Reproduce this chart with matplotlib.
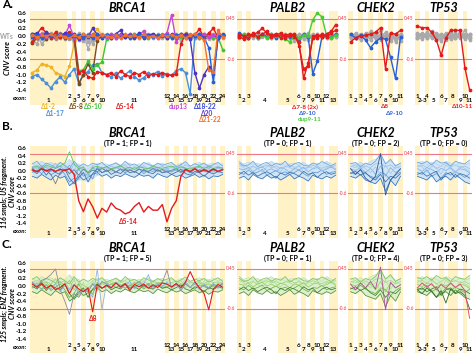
import numpy as np
import matplotlib
matplotlib.use('Agg')
import matplotlib.pyplot as plt
from matplotlib.transforms import blended_transform_factory

plt.rcParams['font.family'] = ['Lato', 'DejaVu Sans']
plt.rcParams['axes.unicode_minus'] = False

# ---- gene structure: exon names and number of fragments per exon ----
brca1_exons = ['1', '2', '3', '5', '6', '7', '8', '9', '10', '11', '12', '13', '14',
               '15', '16', '17', '18', '19', '20', '21', '22', '23', '24']
brca1_sizes = [8, 1, 1, 1, 1, 1, 1, 1, 1, 13, 1, 1, 1, 1, 1, 1, 1, 1, 1, 1, 1, 1, 1]
palb2_exons = ['1', '2', '3', '4', '5', '6', '7', '8', '9', '10', '11', '12', '13']
palb2_sizes = [1, 1, 1, 6, 4, 1, 1, 1, 1, 1, 1, 1, 2]
chek2_exons = ['1', '2', '3', '4', '5', '6', '7', '8', '9', '10', '11']
chek2_sizes = [1, 1, 1, 1, 1, 1, 1, 1, 1, 1, 1]
tp53_exons = ['1', '2-3', '4', '5', '6', '7', '8', '9', '10', '11']
tp53_sizes = [1, 1, 1, 2, 1, 1, 2, 1, 1, 1]

ytick_vals = [0.6, 0.4, 0.2, 0.0, -0.2, -0.4, -0.6, -0.8, -1.0, -1.2, -1.4]
ytick_labels = ['0.6', '0.4', '0.2', '0.0', '-0.2', '-0.4', '-0.6', '-0.8', '-1.0', '-1.2', '-1.4']

# ---- panel A: wild-type samples (CNV score x100) ----
wt_a_brca1 = [
    [3, -5, 8, 2, -4, 6, -2, 5, -8, 4, -10, 3, -15, 2, 5, -3, 4, -2, 6, -1, 3, -4, 2, 5, -3, 1, 4, -2, 3, -5, 2, 6, -4, 3, -2, 5, -6, 2, 4, -3, 6, -2],
    [-4, 2, -6, 5, 0, -3, 7, -5, 3, -12, 6, -8, 4, -20, -4, 6, -3, 2, -5, 4, 1, -2, 5, -3, 0, 4, -6, 3, -1, 2, -5, 4, -3, 7, -8, -4, 5, -2, 1, 6, -3, 2],
    [6, 4, -20, -8, 3, 5, -4, 1, 6, -6, 2, -14, -6, 3, -2, 4, -1, 5, -4, 2, -3, 6, -2, 1, 5, -4, 2, -3, 6, -1, 4, -2, -12, 5, -3, 2, -6, 4, -2, 1, 5, -4],
    [-8, -20, 5, -5, 6, -2, 3, -7, -2, 5, -4, 6, -33, -5, 4, -6, 3, -4, 1, 5, -2, 3, -5, 4, -1, 2, -3, 5, -2, 4, -6, 3, 1, -4, 6, -2, 3, -5, 2, -4, 1, 4],
    [1, -6, 3, 7, -2, -8, 5, 2, -4, -15, 8, -3, 5, -6, -2, 3, 5, -4, 2, -6, 4, -1, 3, -5, 6, -2, 1, 4, -3, 5, -2, -6, 4, -1, 3, -4, 6, -3, -8, 2, -5, 3],
    [5, 2, -7, 0, 8, -5, -3, 6, 9, -3, -6, 4, -2, -10, 6, -1, -5, 3, -2, 1, 5, -3, 2, -4, 1, 6, -2, 3, -5, -1, 3, 2, -5, 4, -6, 1, -3, 5, 2, -6, 4, -1],
]
wt_a_palb2 = [
    [2, -3, 5, -2, 4, -1, 3, -4, 2, 5, -3, 1, 4, -6, 2, -3, 5, -2, 4, -1, 3, -2],
    [-4, 3, -1, 6, -2, 3, -5, 2, -1, 4, 2, -5, -2, 5, -8, 3, -2, 6, -3, 2, -5, 4],
    [5, -2, 3, -4, 1, 5, -3, 4, -6, 2, -1, 3, -7, 2, 4, -5, 1, -3, 5, -4, 2, -1],
    [-2, 5, -4, 2, -6, 1, 4, -2, 3, -3, 5, -2, -12, -4, 6, -10, 3, -5, 2, 4, -3, 6],
    [1, -6, 2, 4, -3, 6, -1, -4, 5, -2, 3, -4, 6, -3, -2, 8, -6, 4, -1, -5, 6, -2],
    [4, 2, -5, 1, 3, -2, 5, -3, -1, 6, -4, 2, 1, -6, 3, -2, -4, 6, -3, 1, -2, 5],
]
wt_a_chek2 = [
    [2, -4, 6, -2, 12, -5, 3, -8, 5, -6, 4],
    [-5, 3, -10, 4, -2, 8, -6, 2, -12, 6, -3],
    [6, -2, 4, -6, 3, -3, 15, -4, 2, -8, 5],
    [-3, 8, -2, 5, -9, 4, -5, 10, -6, 3, -12],
    [0, -6, 2, -3, 6, -8, 5, -2, 8, -15, 2],
    [4, 2, -5, 8, -4, 2, -10, 3, -3, 5, -6],
]
wt_a_tp53 = [
    [5, -3, 10, -2, 6, -8, 4, -5, 8, -3, 6, -2],
    [-4, 8, -2, 4, -6, 3, -10, 6, -3, 12, -5, 3],
    [8, 2, -6, 12, -3, -12, 5, -2, 4, -6, 16, -4],
    [-2, -8, 4, -3, 8, 2, -6, 10, -5, 3, -8, 6],
    [3, 6, -4, 2, -10, 5, 3, -8, 6, -2, 4, -10],
    [-6, 4, 6, -5, 3, -4, 8, -3, -6, 8, -3, 5],
]

# ---- panel A: samples with known CNVs (x100) ----
a_d1_2 = [-95, -88, -72, -75, -80, -95, -100, -105, -78, -20, -2, 5, -3, 4, 18, 2, 0, -4, 3, -2, 5, -3, 1, 4, -5, 2, -1, 3, -2, 4, -3, 2, -5, 3, -1, 5, -2, 3, -4, 2, -3, 1]
a_d1_17 = [-105, -100, -112, -122, -135, -118, -106, -120, -100, -85, -122, -100, -92, -76, -72, -95, -100, -106, -95, -110, -100, -90, -105, -115, -108, -96, -100, -92, -104, -98, -102, -90, -85, -95, -150, -2, 5, -3, 2, -4, 3, -1]
a_d5_8 = [-18, -5, 3, -8, 4, -2, 6, -4, 2, -6, -125, -100, -72, -95, -12, 2, -3, 4, -2, 5, -1, 3, -4, 2, -3, 1, 4, -2, 3, -2, 3, -4, 1, 5, -3, 2, -1, 4, -2, 3, -5, 2]
a_d5_10 = [5, -3, 2, 4, -5, 3, -2, 6, -4, 3, -90, -88, -65, -85, -75, -68, -8, 3, -2, 4, -3, 1, 5, -2, 3, -4, 2, -1, 3, -5, 2, 4, -3, 1, -2, 3, -4, 2, 5, -6, -3, -35]
a_d5_14 = [-15, 5, 22, 8, -5, 10, -3, 6, 10, 2, -95, -90, -105, -110, -92, -96, -100, -95, -105, -90, -100, -105, -95, -100, -92, -104, -98, -100, -95, -100, -102, -98, -20, 5, -2, 3, 18, -4, 8, 20, -3, 5]
a_dup13 = [3, -5, 6, -2, 4, -3, 5, 2, 28, -4, 3, -6, 2, 5, -3, 4, -2, 6, -4, 3, -1, 5, -3, 2, 14, -2, 4, -5, 1, 8, 55, -15, 3, -4, 2, 5, -3, 6, -2, 4, -1, 3]
a_d18_22 = [5, 8, -3, 10, 4, -6, 2, 7, -3, 5, -8, 3, -2, 20, 4, -5, 2, -4, 6, 15, -3, 4, -2, 8, -5, 3, 6, -1, 2, -4, 5, -3, 6, 2, -8, -95, -135, -100, -80, -98, -5, 3]
a_d20 = [-2, 4, -5, 3, 1, -3, 6, -2, 4, -1, 3, -4, 2, -6, 5, -2, 3, -1, 4, -3, 2, -5, 1, 3, -2, 4, -3, 2, -1, 3, -4, 2, 5, -2, 3, -1, 6, -4, -30, -120, -2, 4]
a_d21_22 = [4, -3, 2, -1, 5, -4, 3, -2, -5, 2, -3, 6, -1, 3, -4, 2, 1, -2, 4, -5, 3, -1, 2, -3, 5, -2, 1, -4, 3, -1, 4, -2, 3, -5, 2, 6, -3, -10, -88, -92, 15, -2]
a_palb2_d7_8a = [-2, -8, 5, 3, 10, 20, 8, 2, 6, -4, 3, 5, -2, -15, -110, -70, -5, 4, -3, 6, 12, 30]
a_palb2_d7_8b = [4, 0, -6, 8, -2, 5, 12, -3, 2, 8, -5, 2, 6, -25, -85, -78, 0, -4, 5, -2, 8, 15]
a_palb2_d9_10 = [8, 2, -5, 3, -4, 6, -2, 5, -6, 3, 2, -3, 4, -8, 5, -2, -98, -65, -2, 4, -3, 5]
a_palb2_dup9_11 = [-3, 5, -2, 4, -6, 2, -4, 6, -1, -3, -8, -15, 2, -5, 3, 0, 42, 60, 50, 2, -4, 3]
a_chek2_d8 = [-15, -5, 0, 2, 5, 10, 22, -85, 8, 5, 15]
a_chek2_d9_10 = [5, -5, 2, -10, -30, -15, -5, -8, -55, -110, -2]
a_tp53_d10_11 = [25, 22, 22, 10, -10, -50, -5, 15, 15, 15, -82, -140]

# ---- panels B and C: bundles of validation samples (x100) ----
wt_bc_brca1 = [
    [10, 15, 8, 12, 5, 18, 9, 14, -10, 20, -25, -5, -15, 8, -12, 10, 4, 12, 6, 9, 15, 3, 10, 7, 12, 5, 14, 8, 11, 4, 9, 13, 6, 15, 8, 10, 12, 5, 14, 9, 11, 7],
    [-5, 2, -8, 4, -12, -3, 6, -10, -30, -20, 5, -15, -8, -22, 10, -5, -2, 6, -4, 3, -6, 2, -3, 5, -8, 1, -2, 4, -5, 0, -3, 2, -6, 5, -4, -8, 3, -2, -5, 1, -3, 4],
    [20, 12, 25, 18, 22, 15, 20, 16, 30, 10, 18, -10, 5, 12, 20, 15, 18, 12, 22, 14, 16, 20, 12, 18, 15, 22, 13, 17, 20, 12, 18, 14, 20, 16, 12, 18, 22, 15, 17, 20, 14, 18],
    [-15, -20, -10, -18, -25, -12, -20, -15, -40, -30, -12, -25, -18, -10, -5, -15, -10, -20, -12, -16, -8, -14, -18, -10, -15, -12, -20, -8, -14, -18, -10, -16, -12, -20, -15, -10, -18, -12, -22, -14, -16, -10],
    [5, 8, 2, 10, -3, 6, 12, 0, 15, -10, 8, 2, -5, 6, 3, 8, -2, 5, 10, 2, 6, -1, 8, 4, -2, 7, 3, 9, 1, 5, -4, 8, 2, 6, -3, 5, 9, 1, 6, -2, 7, 3],
    [12, 5, 15, -2, 8, 20, -5, 10, -8, 5, -15, 10, -20, 15, -10, 5, 12, -3, 8, 15, 2, 10, -4, 12, 6, -2, 10, 5, -6, 12, 8, 2, 15, -5, 10, 6, -3, 12, 4, -8, 10, 5],
    [0, -8, 5, -12, 3, -5, -10, 4, -20, -35, -18, -5, -30, -8, 5, -6, 2, -10, -3, -8, 4, -6, -2, -9, 3, -5, -8, 2, -6, -3, -10, -4, 3, -8, -12, -2, -6, -15, -4, -9, -2, -6],
    [18, 25, 10, 20, 15, 8, 22, 14, 5, 25, 10, 18, 12, 20, 15, 22, 10, 16, 20, 12, 25, 14, 18, 10, 22, 16, 12, 20, 14, 18, 22, 10, 16, 24, 12, 18, 14, 20, 10, 16, 22, 12],
]
wt_bc_palb2 = [
    [25, 15, 8, 12, 5, 10, 14, 8, 12, 6, 10, 15, 8, 12, 5, 9, 14, 10, 6, 12, 8, 15],
    [-5, -10, 2, -8, -4, 3, -12, -6, 0, -8, -3, -10, -5, 2, -8, -15, -4, -6, 2, -10, -5, -2],
    [10, 18, 22, 15, 20, 12, 18, 25, 15, 20, 12, 18, 20, 15, 22, 14, 18, 20, 12, 25, 18, 14],
    [-20, -15, -25, -10, -18, -22, -12, -20, -15, -25, -18, -10, -22, -15, -20, -28, -12, -18, -22, -15, -20, -12],
    [5, 2, 8, -3, 6, 10, 0, 5, -2, 8, 4, -5, 6, 2, 9, -3, 5, 8, -1, 4, 10, 2],
    [15, 8, -2, 12, 5, -4, 10, 15, 6, -3, 12, 8, 2, 14, -5, 10, 6, 15, -2, 8, 12, 5],
    [-10, -2, -12, -5, -15, -8, -3, -10, -20, -6, -12, -4, -8, -15, -2, -10, -6, -18, -8, -3, -10, -6],
    [20, 12, 15, 25, 10, 18, 22, 12, 20, 15, 25, 10, 18, 22, 14, 12, 20, 16, 24, 18, 12, 20],
]
wt_bc_chek2 = [
    [10, 15, 5, 12, 8, 18, 20, 10, 15, 6, 12],
    [-5, -10, 2, -8, -15, -20, -5, -10, -25, -12, -4],
    [20, 15, 22, 12, 25, 30, 35, 20, 25, 15, 18],
    [-15, -20, -10, -25, -30, -35, -20, -55, -25, -40, -15],
    [5, 0, 8, -5, 6, -10, 12, -15, 8, -5, 3],
    [12, 8, 15, 5, -5, 10, -12, 15, -8, 10, 6],
    [-8, -2, -12, -5, -18, -25, -10, -30, -15, -20, -8],
    [18, 22, 10, 20, 15, 25, 45, 18, 30, 12, 20],
]
wt_bc_tp53 = [
    [10, 15, 8, 18, 5, 12, 20, 10, 15, 8, 12, 5],
    [-5, -10, 2, -15, -8, -20, -5, -12, -3, -10, -18, -8],
    [20, 25, 15, 22, 18, 10, 25, 20, 12, 22, 15, 20],
    [-15, -20, -25, -12, -30, -20, -15, -25, -10, -20, -30, -35],
    [5, -2, 8, 3, -5, 6, 0, 8, -3, 5, 2, -6],
    [15, 10, -5, 12, 8, -10, 15, 5, -8, 12, 6, -2],
    [-10, -5, -15, -8, -2, -25, -10, -5, -18, -8, -12, -20],
    [22, 18, 25, 15, 28, 20, 22, 12, 25, 20, 18, 28],
]

b_brca1_d5_14 = [2, -3, 5, -1, 4, -2, 3, 0, 5, -10, -80, -109, -75, -96, -126, -100, -110, -86, -100, -105, -115, -110, -95, -85, -110, -95, -105, -105, -90, -136, -100, -80, -15, 3, -2, 5, -4, 2, -3, 4, -2, 3]
b_brca1_green = [8, 12, 5, 15, 10, 6, 12, 20, 50, 18, 5, 10, -5, 8, 12, 6, 10, 4, 8, 12, 6, 9, 3, 10, 7, 5, 11, 8, 6, 9, 12, 5, 10, 7, 4, 8, 12, 6, 10, 5, 9, 7]
b_brca1_gray = [5, -2, 8, 0, -10, -35, -5, 3, -8, 2, -12, 4, -6, 1, -3, 6, -2, 3, -4, 5, -1, 2, -5, 4, 0, -3, 6, -2, 3, -4, 1, 5, -3, 2, -6, 4, -1, 3, -2, 5, -4, 1]
b_chek2_fp = [5, -10, 3, -20, -30, -15, 45, -65, -25, -10, 5]

c_brca1_d8 = [5, -3, 8, -6, 2, -10, -4, 6, -20, 3, -8, -15, -5, -68, 4, -6, 2, -5, 8, -3, 6, -12, 4, -2, 5, -6, 3, -4, 8, 5, -2, 6, -4, 10, 38, 12, -5, -20, -63, -8, 4, -3]
c_brca1_gray = [10, -5, 15, 20, 30, 45, -10, -40, -75, -20, -30, -10, -15, 5, -8, 12, 6, -4, 10, -2, 8, -6, 4, 12, -3, 6, -8, 2, 10, 42, -5, 8, -12, 6, -4, 10, -6, 3, -8, 5, -2, 8]
c_brca1_blue = [-5, 8, -12, 4, -8, 6, -15, 2, -10, 5, -20, -8, -12, -30, 45, -62, 8, -4, 10, -6, 3, 12, -8, 5, 6, 30, -4, 8, -2, 10, -6, 4, -8, 12, -3, 6, -10, 5, -4, 8, -6, 3]
c_chek2_fp = [5, -10, 8, -5, 12, -8, 50, -63, 10, -5, 3]
c_tp53_pink = [-5, 8, -3, 6, -10, 4, -6, 8, -4, 5, -12, -85]
c_tp53_green = [-10, -20, -5, -15, -30, -12, -45, -8, -20, -15, -25, -60]

subtitles_b = ['(TP = 1; FP = 1)', '(TP = 0; FP = 1)', '(TP = 0; FP = 2)', '(TP = 0; FP = 0)']
subtitles_c = ['(TP = 1; FP = 5)', '(TP = 0; FP = 1)', '(TP = 0; FP = 4)', '(TP = 0; FP = 3)']

# ---- layout (pixel boxes) ----
W, H = 474, 355
genes = ['BRCA1', 'PALB2', 'CHEK2', 'TP53']
exons = {'BRCA1': (brca1_exons, brca1_sizes), 'PALB2': (palb2_exons, palb2_sizes),
         'CHEK2': (chek2_exons, chek2_sizes), 'TP53': (tp53_exons, tp53_sizes)}
panel_x = {'BRCA1': (30, 225), 'PALB2': (237, 338), 'CHEK2': (348, 403), 'TP53': (415, 472)}
row_y = {'A': (11.1, 104.6), 'B': (146.1, 237.7), 'C': (261.4, 353.4)}

band = '#fff2c6'
thr_col = '#f07882'
YLO, YHI = -1.78, 0.65

fig = plt.figure(figsize=(4.74, 3.55), dpi=100)


def make_axes(gene, row):
    x0, x1 = panel_x[gene]
    y0, y1 = row_y[row]
    ax = fig.add_axes([x0 / W, 1 - y1 / H, (x1 - x0) / W, (y1 - y0) / H])
    names, sizes = exons[gene]
    n = sum(sizes)
    ax.set_xlim(-0.5, n - 0.5)
    ax.set_ylim(YLO, YHI)
    for s in ax.spines.values():
        s.set_visible(False)
    ax.set_xticks([])
    tr = blended_transform_factory(ax.transAxes, ax.transData)
    if gene == 'BRCA1':
        ax.set_yticks(ytick_vals)
        ax.set_yticklabels(ytick_labels, fontsize=4.6, fontweight='bold')
        ax.tick_params(axis='y', length=0, pad=2.5)
        ax.text(-0.015, -1.615, 'exon:', transform=tr, ha='right', va='center',
                fontsize=4.4, style='italic', fontweight='bold')
    else:
        ax.set_yticks([])
        ax.text(-0.02, 0.45, '0.45', transform=tr, ha='right', va='center', fontsize=3.4, color='#e8343c')
        ax.text(-0.02, -0.6, '-0.6', transform=tr, ha='right', va='center', fontsize=3.4, color='#e8343c')
    # exon shading and labels
    start = 0
    up = True
    for k, (name, size) in enumerate(zip(names, sizes)):
        if k % 2 == 0:
            ax.axvspan(start - 0.5, start + size - 0.5, color=band, lw=0, zorder=0)
        mid = start + (size - 1) / 2
        if size >= 3:
            yv = -1.665
            up = True
        else:
            yv = -1.56 if up else -1.665
            up = not up
        ax.text(mid, yv, name, ha='center', va='center', fontsize=4.5, fontweight='bold')
        start += size
    ax.axhline(0.45, color=thr_col, lw=0.8, zorder=1)
    ax.axhline(-0.6, color=thr_col, lw=0.8, zorder=1)
    return ax


def line(ax, vals, color, lw=1.0, marker=True, z=3, alpha=1.0):
    v = np.array(vals) / 100.0
    x = np.arange(len(v))
    if marker:
        ax.plot(x, v, color=color, lw=lw, marker='o', ms=1.7, zorder=z, alpha=alpha)
    else:
        ax.plot(x, v, color=color, lw=lw, zorder=z, alpha=alpha)


def label(ax, x, y, s, color, size=4.8):
    ax.text(x, y, s, color=color, fontsize=size, fontweight='bold', ha='center',
            va='center', clip_on=False)


axA = {g: make_axes(g, 'A') for g in genes}
axB = {g: make_axes(g, 'B') for g in genes}
axC = {g: make_axes(g, 'C') for g in genes}

# ---- panel A ----
wt_a = {'BRCA1': wt_a_brca1, 'PALB2': wt_a_palb2, 'CHEK2': wt_a_chek2, 'TP53': wt_a_tp53}
for g in genes:
    for prof in wt_a[g]:
        line(axA[g], prof, '#a9a9a9', lw=1.0, z=2)

a_brca1 = [(a_d1_2, '#f0b323'), (a_d1_17, '#4a8fdc'), (a_d5_8, '#7a4a1e'),
           (a_d5_10, '#3cc43c'), (a_d5_14, '#e41a1c'), (a_dup13, '#c447d6'),
           (a_d18_22, '#4b32c8'), (a_d20, '#1f5fe0'), (a_d21_22, '#f07030')]
for vals, col in a_brca1:
    line(axA['BRCA1'], vals, col)
line(axA['PALB2'], a_palb2_d9_10, '#2a5fd8')
line(axA['PALB2'], a_palb2_dup9_11, '#44cc33')
line(axA['PALB2'], a_palb2_d7_8b, '#e41a1c')
line(axA['PALB2'], a_palb2_d7_8a, '#e41a1c')
line(axA['CHEK2'], a_chek2_d9_10, '#2a5fd8')
line(axA['CHEK2'], a_chek2_d8, '#e41a1c')
line(axA['TP53'], a_tp53_d10_11, '#e41a1c')

ax = axA['BRCA1']
label(ax, 3.4, -1.84, '\u03941-2', '#f0b323')
label(ax, 4.9, -2.02, '\u03941-17', '#4a8fdc')
label(ax, 9.4, -1.84, '\u03945-8', '#7a4a1e')
label(ax, 13.1, -1.84, '\u03945-10', '#3cc43c')
label(ax, 20.0, -1.84, '\u03945-14', '#e41a1c')
label(ax, 31.4, -1.84, 'dup13', '#c447d6')
label(ax, 37.2, -1.84, '\u039418-22', '#3344dd')
label(ax, 37.6, -2.01, '\u039420', '#5b32c8')
label(ax, 38.3, -2.17, '\u039421-22', '#f07030')
tr = blended_transform_factory(ax.transAxes, ax.transData)
ax.text(-0.118, 0.0, 'WTs', transform=tr, ha='center', va='center', fontsize=4.8,
        color='#a0a0a0', fontweight='bold')
label(axA['PALB2'], 14.3, -1.84, '\u03947-8 (2x)', '#e41a1c', size=4.5)
label(axA['PALB2'], 15.0, -2.01, '\u03949-10', '#2a5fd8', size=4.5)
label(axA['PALB2'], 15.4, -2.18, 'dup9-11', '#44cc33', size=4.5)
label(axA['CHEK2'], 6.9, -1.84, '\u03948', '#e41a1c', size=4.5)
label(axA['CHEK2'], 8.9, -2.01, '\u03949-10', '#2a5fd8', size=4.5)
label(axA['TP53'], 9.5, -1.84, '\u039410-11', '#e41a1c', size=4.5)

# ---- panels B and C ----
wt_bc = {'BRCA1': wt_bc_brca1, 'PALB2': wt_bc_palb2, 'CHEK2': wt_bc_chek2, 'TP53': wt_bc_tp53}
blues = ['#9dc3e6', '#5b9bd5', '#bdd7ee', '#2e75b6', '#7fb2e0', '#a6c8ea', '#3a6ea8', '#6aa6dc']
greens = ['#a9d18e', '#70ad47', '#c5e0b4', '#4f8f2f', '#92d050', '#b4de9a', '#3d7a22', '#7cc35a']
for axes, cols, fill in ((axB, blues, '#d3e5f5'), (axC, greens, '#dcf0cf')):
    for g in genes:
        prof = np.array(wt_bc[g]) / 100.0
        x = np.arange(prof.shape[1])
        axes[g].fill_between(x, prof.min(axis=0), prof.max(axis=0), color=fill, lw=0, zorder=1.8)
        for k, p in enumerate(wt_bc[g]):
            line(axes[g], p, cols[k % len(cols)], lw=0.55, marker=False, z=2)

line(axB['BRCA1'], b_brca1_gray, '#6e7f91', lw=0.6, marker=False, z=2.5)
line(axB['BRCA1'], b_brca1_green, '#5cc45c', lw=0.6, marker=False, z=2.5)
line(axB['BRCA1'], b_brca1_d5_14, '#e41a1c', lw=1.0, marker=False, z=3)
line(axB['CHEK2'], b_chek2_fp, '#2f5597', lw=0.6, marker=False, z=2.5)
label(axB['BRCA1'], 20.6, -1.34, '\u03945-14', '#e41a1c')

line(axC['BRCA1'], c_brca1_gray, '#8a8a9e', lw=0.6, marker=False, z=2.5)
line(axC['BRCA1'], c_brca1_blue, '#8fb3e0', lw=0.6, marker=False, z=2.5)
line(axC['BRCA1'], c_brca1_d8, '#e41a1c', lw=0.8, marker=False, z=3)
line(axC['CHEK2'], c_chek2_fp, '#b04d9e', lw=0.6, marker=False, z=2.5)
line(axC['TP53'], c_tp53_green, '#2e6b1f', lw=0.6, marker=False, z=2.5)
line(axC['TP53'], c_tp53_pink, '#e0507a', lw=0.7, marker=False, z=3)
label(axC['BRCA1'], 13.1, -0.845, '\u03948', '#e41a1c')

# ---- titles and labels ----
title_y = {'A': 8, 'B': 133, 'C': 248}
for row in ('A', 'B', 'C'):
    for k, g in enumerate(genes):
        x0, x1 = panel_x[g]
        fig.text((x0 + x1) / 2 / W, 1 - title_y[row] / H, g, ha='center', va='center',
                 fontsize=9, fontweight='bold', style='italic')
        if row == 'B':
            fig.text((x0 + x1) / 2 / W, 1 - 143 / H, subtitles_b[k], ha='center', va='center',
                     fontsize=5, fontweight='bold')
        if row == 'C':
            fig.text((x0 + x1) / 2 / W, 1 - 258 / H, subtitles_c[k], ha='center', va='center',
                     fontsize=5, fontweight='bold')

fig.text(2 / W, 1 - 5 / H, 'A.', fontsize=8.5, fontweight='bold', va='center')
fig.text(2 / W, 1 - 127 / H, 'B.', fontsize=8.5, fontweight='bold', va='center')
fig.text(2 / W, 1 - 244 / H, 'C.', fontsize=8.5, fontweight='bold', va='center')

fig.text(8 / W, 1 - 58 / H, 'CNV score', rotation=90, ha='center', va='center',
         fontsize=5.5, fontweight='bold', style='italic')
fig.text(8.5 / W, 1 - 192 / H, '116 smpls; US fragment.\nCNV score', rotation=90,
         ha='center', va='center', multialignment='center', linespacing=1.1,
         fontsize=5, fontweight='bold', style='italic')
fig.text(8.5 / W, 1 - 304 / H, '125 smpls; ENZ fragment.\nCNV score', rotation=90,
         ha='center', va='center', multialignment='center', linespacing=1.1,
         fontsize=5, fontweight='bold', style='italic')

fig.savefig('out.png', dpi=100)
